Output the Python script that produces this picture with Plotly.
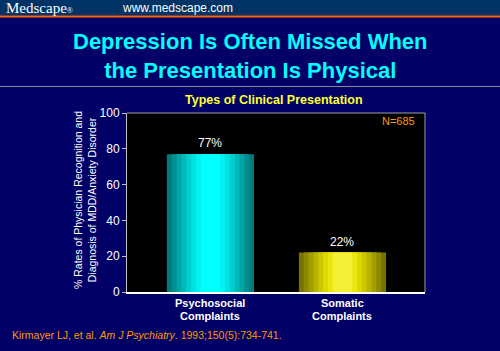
import plotly.graph_objects as go

categories = ["Psychosocial<br>Complaints", "Somatic<br>Complaints"]
values = [77, 22]
value_labels = ["77%", "22%"]
y_ticks = [0, 20, 40, 60, 80, 100]

W, H = 500, 351
L, R, T, B = 127, 425, 113, 292

fig = go.Figure()

# gradient layers (edge -> center)
cyan_layers = ["#007a7b", "#008f90", "#00a5a6", "#00baba", "#00cfcf", "#00e2e2", "#00f2f2", "#00ffff"]
yellow_layers = ["#787300", "#8d8800", "#a39d00", "#b8b200", "#cdc700", "#ded800", "#ebe510", "#f5f035"]
full_w = 0.66
n = len(cyan_layers)
for i in range(n):
    w = full_w * (1 - i / (n + 1.0))
    fig.add_trace(go.Bar(
        x=categories, y=values, width=[w, w],
        marker=dict(color=[cyan_layers[i], yellow_layers[i]], line=dict(width=0)),
        hoverinfo="skip", showlegend=False))

fig.update_layout(
    barmode="overlay",
    width=W, height=H, autosize=False,
    margin=dict(l=L, r=W - R, t=T, b=H - B, pad=0),
    paper_bgcolor="#000066", plot_bgcolor="#000000",
    font=dict(family="Liberation Sans, Arial, sans-serif", color="white"),
    xaxis=dict(type="category", range=[-0.632, 1.625], showgrid=False,
               showline=True, linecolor="white", linewidth=1.5,
               ticks="", showticklabels=False, fixedrange=True),
    yaxis=dict(range=[0, 100], tickvals=y_ticks, showgrid=False, zeroline=False,
               showline=True, linecolor="#c0c0c0", linewidth=1,
               ticks="outside", ticklen=4, tickcolor="#c0c0c0",
               tickfont=dict(size=12, color="white"), fixedrange=True),
)

shapes = [
    # header banner
    dict(type="rect", xref="paper", yref="paper", x0=-L / (R - L), x1=(W - L) / (R - L),
         y0=(B - 15.5) / (B - T), y1=B / (B - T),
         fillcolor="#003366", line=dict(width=0), layer="below"),
    dict(type="rect", xref="paper", yref="paper", x0=-L / (R - L), x1=(W - L) / (R - L),
         y0=(B - 17.5) / (B - T), y1=(B - 15.5) / (B - T),
         fillcolor="#ff6600", line=dict(width=0), layer="below"),
    # divider under title
    dict(type="line", xref="paper", yref="paper", x0=-L / (R - L), x1=(W - L) / (R - L),
         y0=(B - 86.5) / (B - T), y1=(B - 86.5) / (B - T),
         line=dict(color="#8a8a9a", width=1)),
    # plot frame top/right
    dict(type="line", xref="paper", yref="paper", x0=0, x1=1, y0=1, y1=1,
         line=dict(color="#a0a0a0", width=1)),
    dict(type="line", xref="paper", yref="paper", x0=1, x1=1, y0=0, y1=1,
         line=dict(color="#a0a0a0", width=1)),
]
fig.update_layout(shapes=shapes)


def px(x):
    return (x - L) / (R - L)


def py(y):
    return (B - y) / (B - T)


ann = []
for c, v, t in zip(categories, values, value_labels):
    ann.append(dict(x=c, y=v, xref="x", yref="y", text=t, showarrow=False,
                    yanchor="bottom", yshift=2,
                    font=dict(size=12, color="white")))
    # category labels, two tight lines
    for k, line in enumerate(c.split("<br>")):
        ann.append(dict(x=c, y=py(303 + 13 * k), xref="x", yref="paper",
                        text="<b>" + line + "</b>", showarrow=False,
                        yanchor="middle", font=dict(size=11, color="white")))

ann += [
    dict(x=px(4), y=py(8), xref="paper", yref="paper",
         text="Medscape<span style='font-size:8px'>®</span>",
         showarrow=False, xanchor="left", yanchor="middle",
         font=dict(family="Liberation Serif, Times New Roman, serif", size=15, color="white")),
    dict(x=px(120), y=py(8), xref="paper", yref="paper", text="www.medscape.com",
         showarrow=False, xanchor="left", yanchor="middle",
         font=dict(size=12, color="white")),
    dict(x=px(250), y=py(56), xref="paper", yref="paper",
         text="<b>Depression Is Often Missed When<br>the Presentation Is Physical</b>",
         showarrow=False, xanchor="center", yanchor="middle",
         font=dict(size=22, color="#00ffff")),
    dict(x=px(274), y=py(100), xref="paper", yref="paper",
         text="<b>Types of Clinical Presentation</b>",
         showarrow=False, xanchor="center", yanchor="middle",
         font=dict(size=12.5, color="#ffff33")),
    dict(x=px(417), y=py(121), xref="paper", yref="paper", text="N=685",
         showarrow=False, xanchor="right", yanchor="middle",
         font=dict(size=11, color="#ff9900")),
    dict(x=px(85), y=py(200), xref="paper", yref="paper",
         text="% Rates of Physician Recognition and<br>Diagnosis of MDD/Anxiety Disorder",
         showarrow=False, textangle=-90, xanchor="center", yanchor="middle",
         font=dict(size=10.5, color="white")),
    dict(x=px(10), y=py(335), xref="paper", yref="paper",
         text="Kirmayer LJ, et al. <i>Am J Psychiatry</i>. 1993;150(5):734-741.",
         showarrow=False, xanchor="left", yanchor="middle",
         font=dict(size=10.5, color="#ff9900")),
]
fig.update_layout(annotations=ann)

fig.write_html("out.html")
